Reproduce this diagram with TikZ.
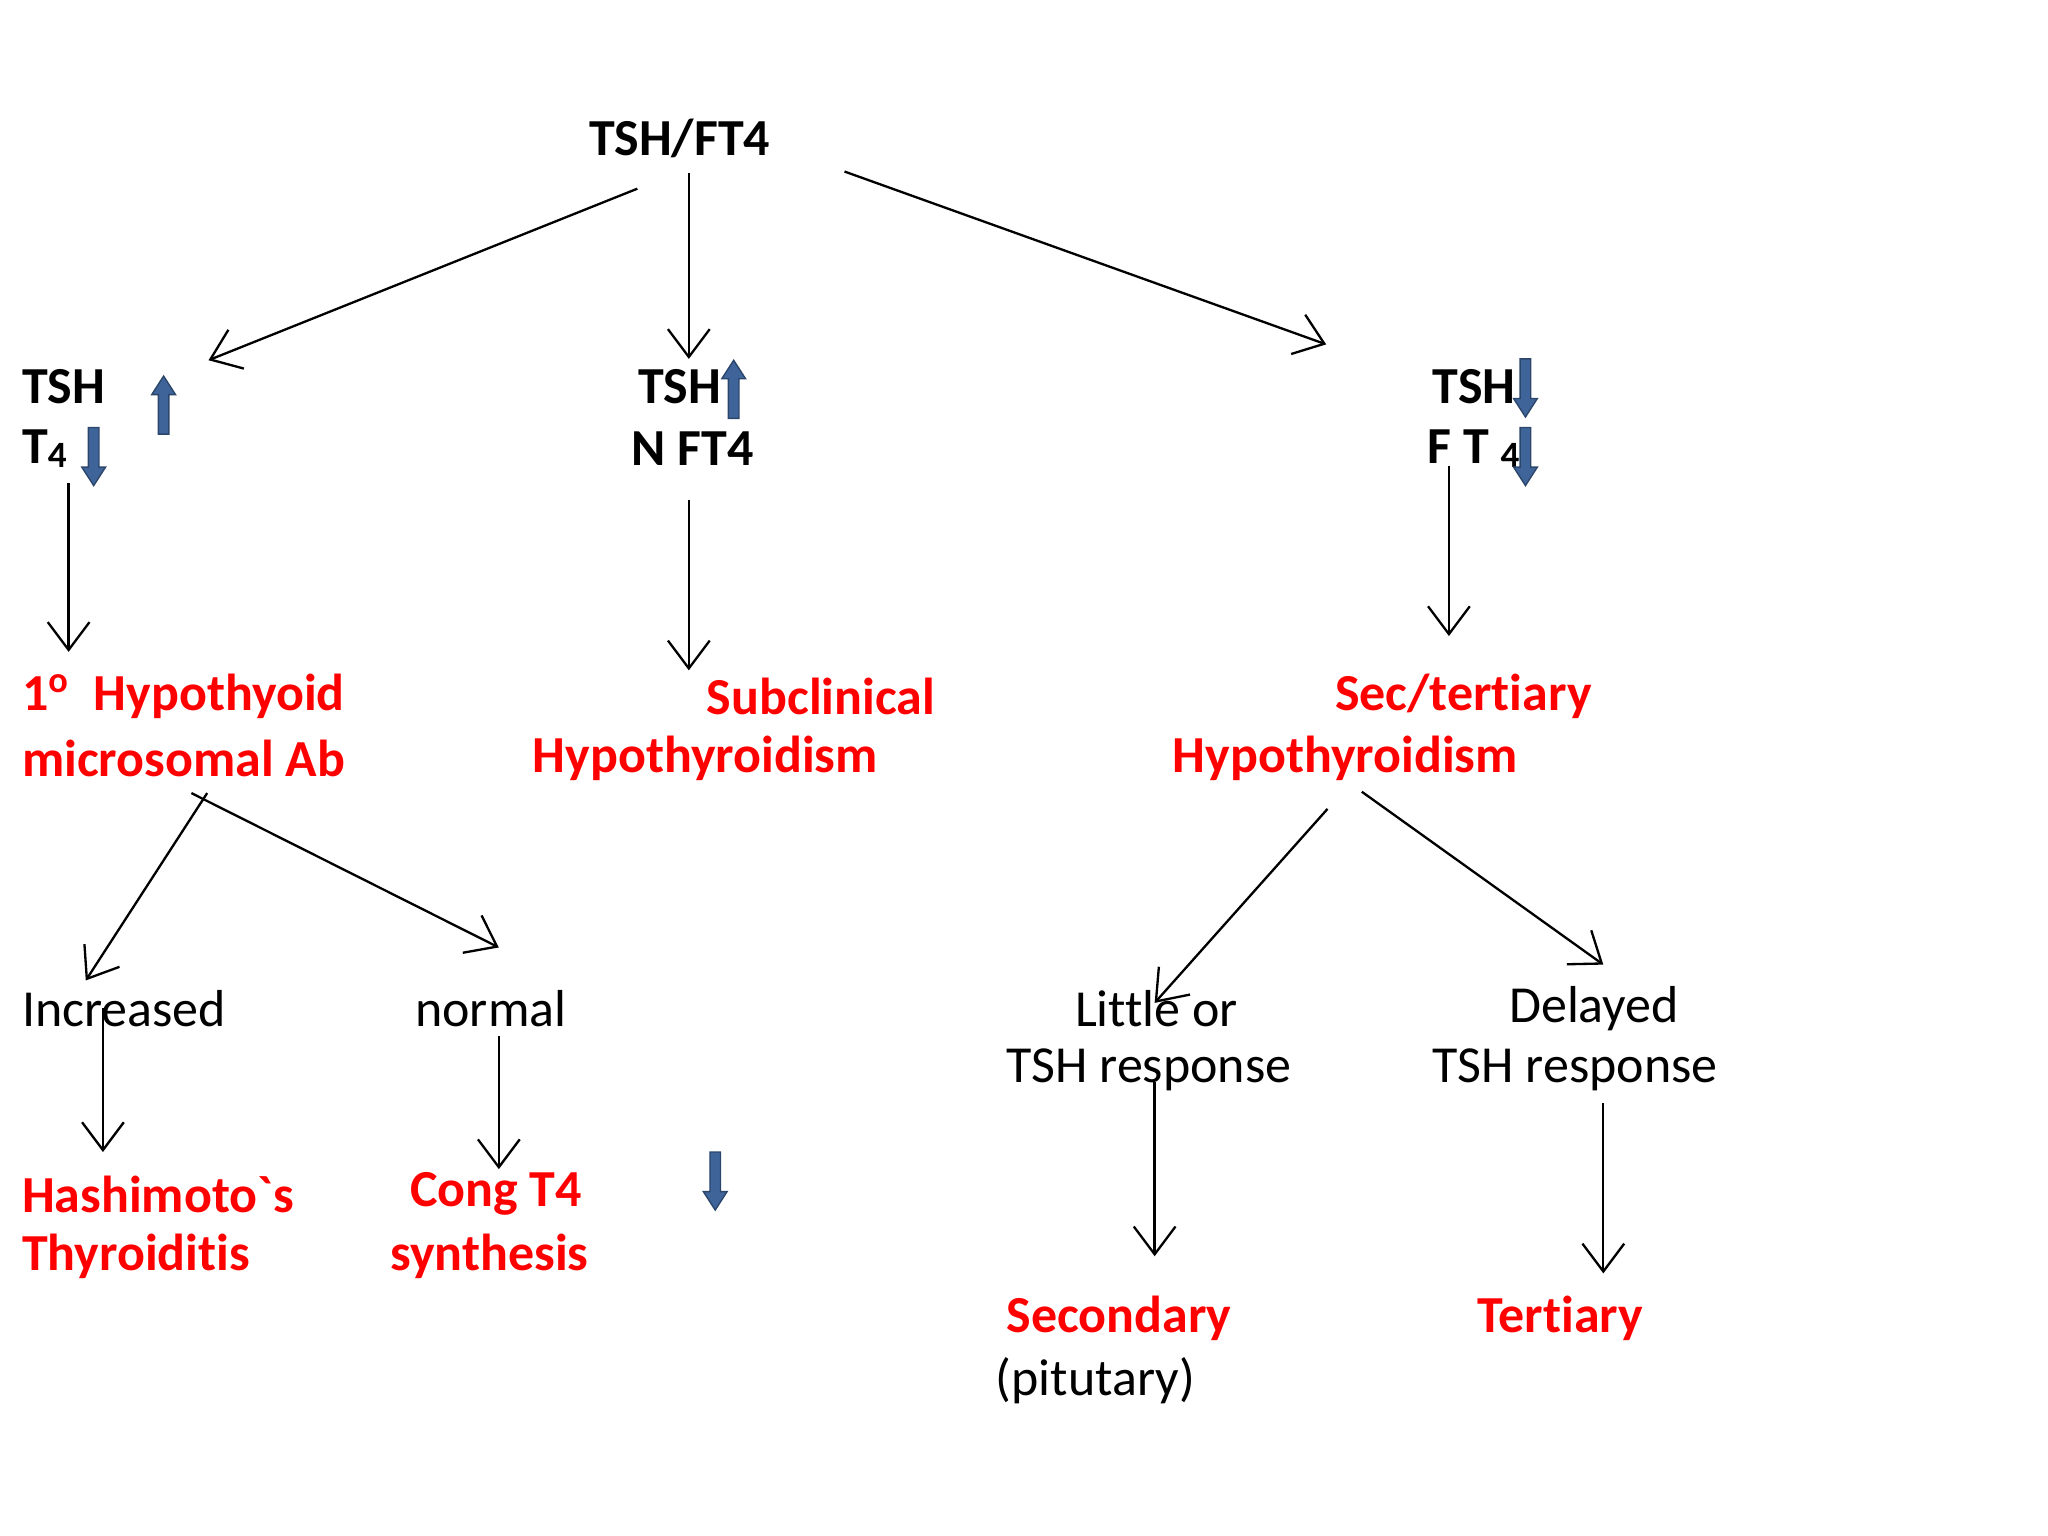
\documentclass[tikz,border=0pt]{standalone}
\usepackage{fontspec}
\setmainfont[Ligatures=NoCommon]{Carlito}
\usetikzlibrary{arrows.meta}
\definecolor{bl}{HTML}{3F6499}
\begin{document}
\begin{tikzpicture}[x=0.01cm,y=-0.01cm,
  t/.style={anchor=west,inner sep=0,font=\fontsize{11.2}{13}\selectfont},
  b/.style={t,font=\fontsize{11.2}{13}\selectfont\bfseries},
  r/.style={b,text=red},
  ln/.style={->,>={Straight Barb[length=6pt,width=9pt]},line width=0.5pt},
  bdn/.pic={\path[fill=bl,draw=bl!70!black,line width=0.3pt] (-4,-22) -- (4,-22) -- (4,8) -- (9,8) -- (0,22) -- (-9,8) -- (-4,8) -- cycle;},
  bup/.pic={\path[fill=bl,draw=bl!70!black,line width=0.3pt] (-4,22) -- (4,22) -- (4,-8) -- (9,-8) -- (0,-22) -- (-9,-8) -- (-4,-8) -- cycle;}]
\useasboundingbox (0,0) rectangle (1552,1164);
\node[b,anchor=center] (top) at (515,105) {TSH/FT4};
\node[b] (l1) at (16,293) {TSH};
\node[b] (l2) at (16,340) {T\raisebox{-1pt}{\fontsize{8}{9}\selectfont 4}};
\pic at (124,307) {bup};
\pic at (71,346) {bdn};
\node[b] (m1) at (483,293) {TSH};
\pic at (556,295) {bup};
\node[b] (m2) at (478,340) {N FT4};
\node[b] (r1) at (1085,293) {TSH};
\pic at (1156,294) {bdn};
\node[b] (r2) at (1081,340) {F T \raisebox{-1pt}{\fontsize{8}{9}\selectfont 4}};
\pic at (1156,346) {bdn};
\node[r] (h1) at (16,528) {1\textsuperscript{o}\ \ Hypothyoid};
\node[r] (h2) at (16,575) {microsomal Ab};
\node[r] (s1) at (535,528) {Subclinical};
\node[r] (s2) at (403,575) {Hypothyroidism};
\node[r] (t1) at (1011,528) {Sec/tertiary};
\node[r] (t2) at (888,575) {Hypothyroidism};
\node[t] (inc) at (16,764) {Increased};
\node[t] (nor) at (314,764) {normal};
\node[t] (lo1) at (814,764) {Little or};
\node[t] (lo2) at (762,811) {TSH response};
\node[t] (de1) at (1143,764) {Delayed};
\node[t] (de2) at (1085,811) {TSH response};
\node[r] (ha1) at (16,905) {Hashimoto\textasciigrave s};
\node[r] (ha2) at (16,952) {Thyroiditis};
\node[r] (co1) at (310,905) {Cong T4};
\node[r] (co2) at (295,952) {synthesis};
\pic at (542,895) {bdn};
\node[r] (se1) at (762,999) {Secondary};
\node[t] (se2) at (754,1046) {(pitutary)};
\node[r] (te) at (1119,999) {Tertiary};
\foreach \n/\a/\b in {c1/483/143,c2/158/273,c3/522/131,c4/522/272,c5/640/130,c6/1005/261,
 c7/52/366,c8/52/494,c9/522/379,c10/522/508,c11/1098/353,c12/1098/482,
 c13/157/601,c14/65/743,c15/145/601,c16/378/718,c17/1006/613,c18/875/760,c19/1032/600,c20/1215/731,
 c21/78/764,c22/78/873,c23/378/785,c24/378/886,c25/875/820,c26/875/952,c27/1215/836,c28/1215/965}
 \coordinate (\n) at (\a,\b);
\foreach \p/\q in {c1/c2,c3/c4,c5/c6,c7/c8,c9/c10,c11/c12,c13/c14,c15/c16,c17/c18,c19/c20,c21/c22,c23/c24,c25/c26,c27/c28}
 \draw[ln] (\p) -- (\q);
\end{tikzpicture}
\end{document}
